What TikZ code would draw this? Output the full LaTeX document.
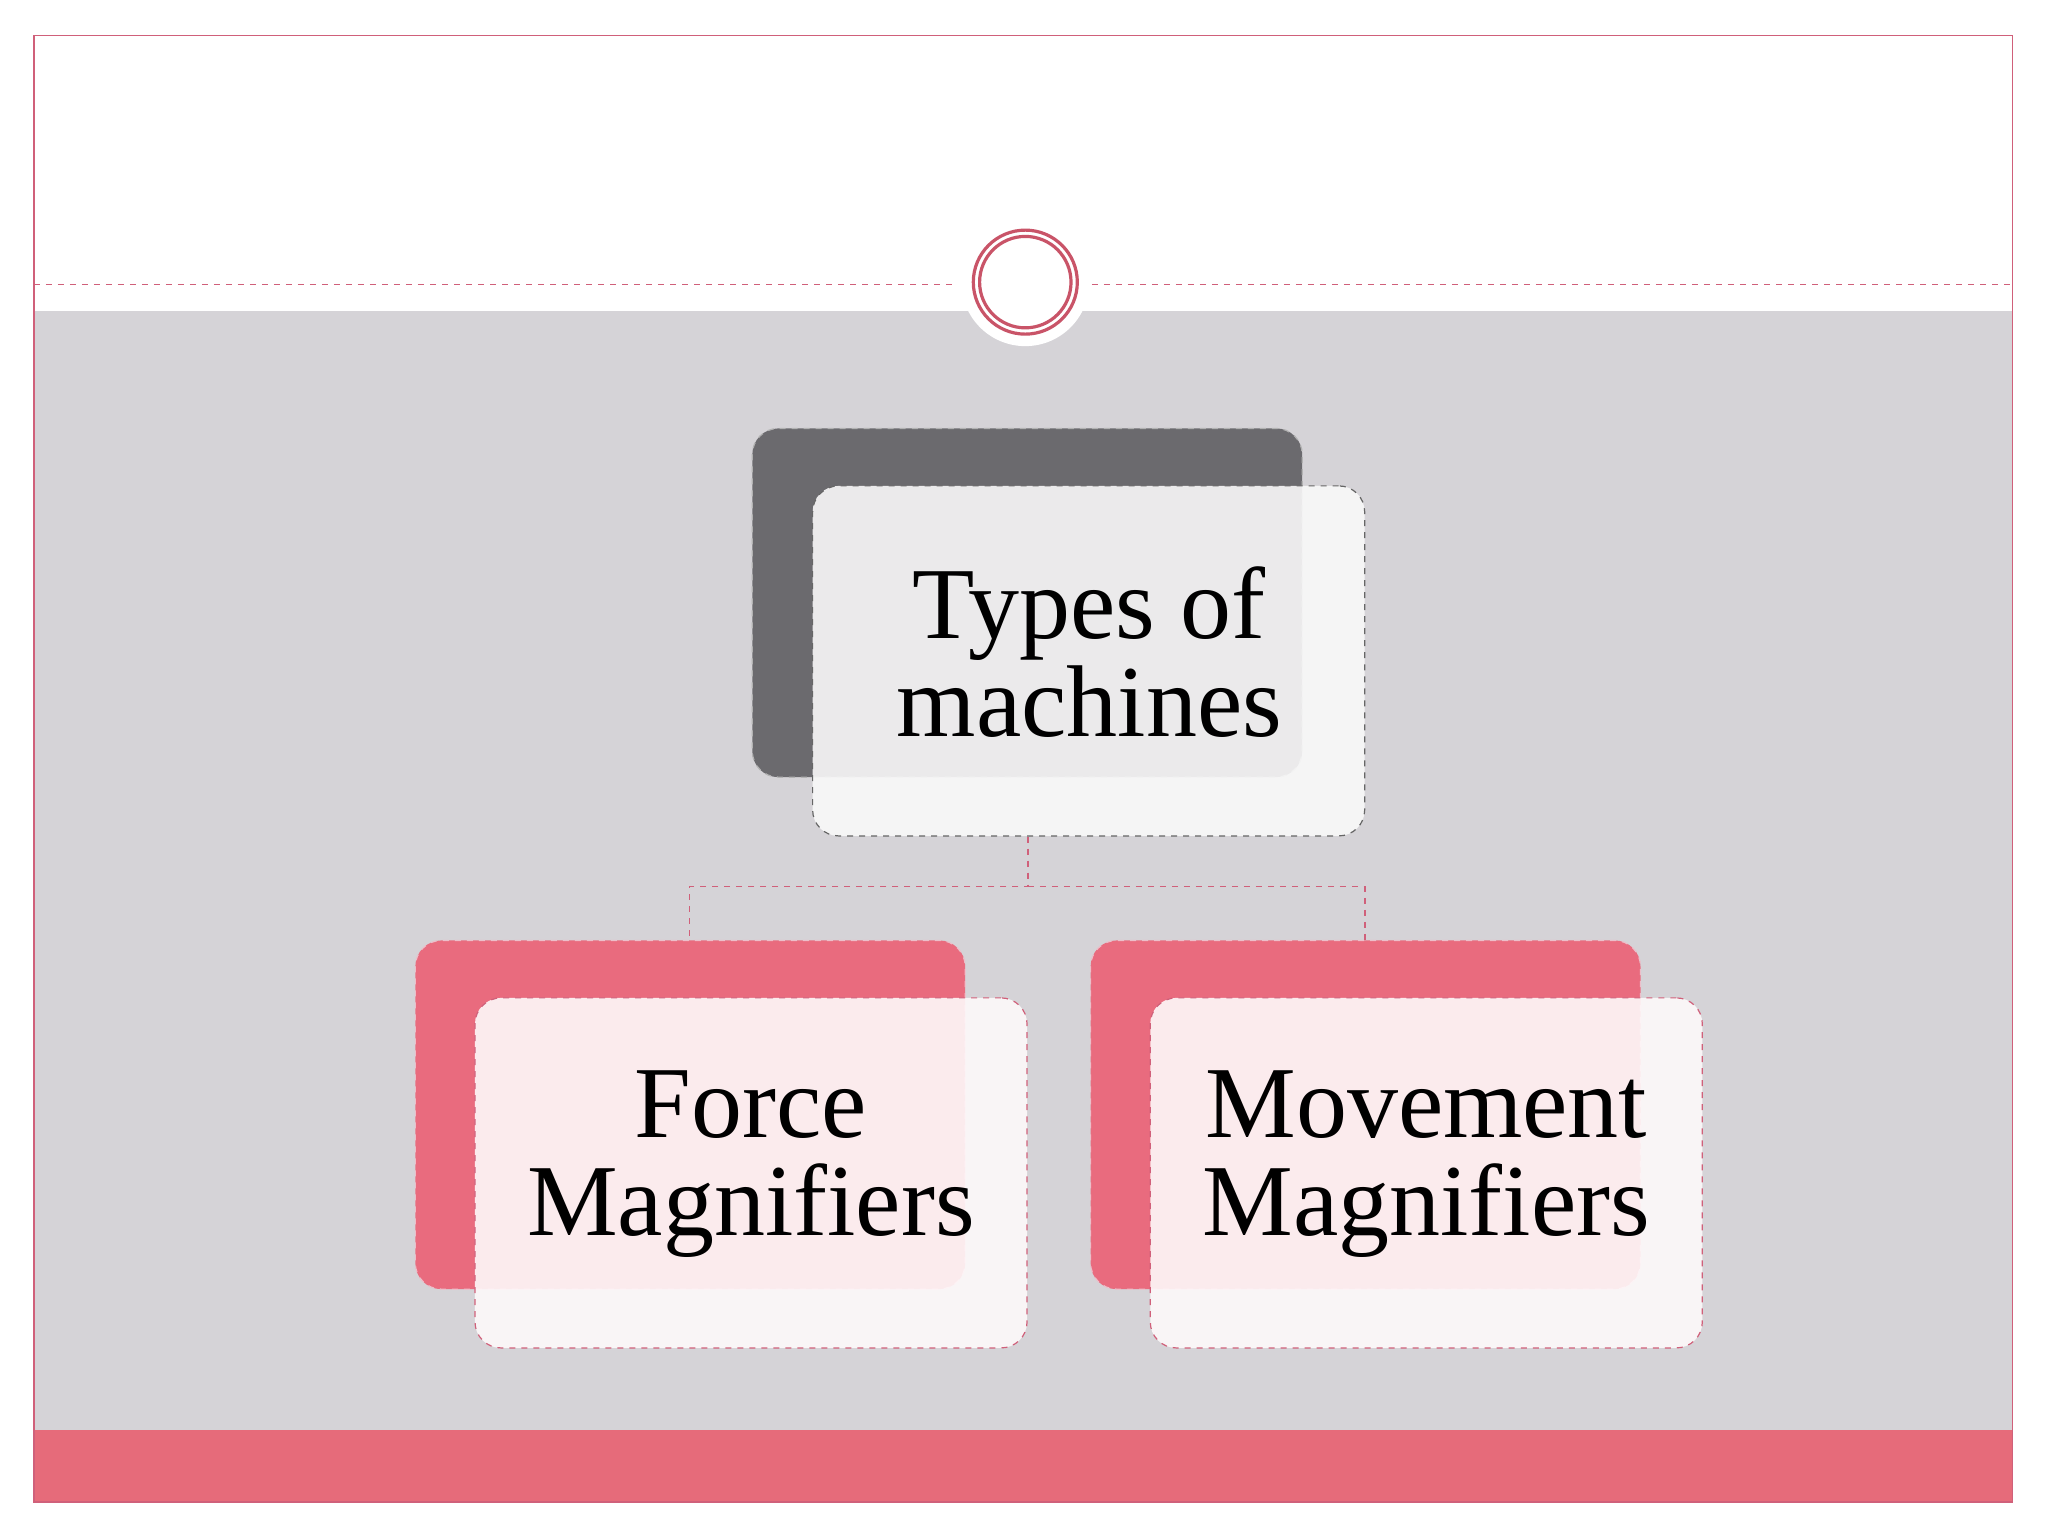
\documentclass[tikz,border=0pt]{standalone}
\usepackage{fontspec}
\setmainfont{Liberation Serif}
\definecolor{pinkline}{HTML}{D0607A}
\definecolor{graybg}{HTML}{D5D3D7}
\definecolor{pinkbar}{HTML}{E66B7A}
\definecolor{ringc}{HTML}{C95468}
\definecolor{darkbox}{HTML}{6B6A6E}
\definecolor{pinkbox}{HTML}{E96B7E}
\tikzset{
  backbox/.style={rounded corners=13pt,draw=white,dashed,line width=0.6pt},
  frontbox/.style={rounded corners=13pt,dashed,line width=0.6pt,fill opacity=0.9,text opacity=1,minimum width=276pt,minimum height=175pt,inner sep=0pt},
  lbl/.style={font=\fontsize{51}{49}\selectfont,align=center}
}
\begin{document}
\begin{tikzpicture}[x=0.653pt,y=-0.653pt]
\useasboundingbox (0,0) rectangle (1568,1176);
\fill[white] (0,0) rectangle (1568,1176);
\fill[graybg] (26,238) rectangle (1541,1095);
\fill[pinkbar] (26,1095) rectangle (1541,1150);
\draw[pinkline,line width=0.6pt] (26,27) rectangle (1541,1150);
\draw[pinkline,dashed,line width=0.6pt] (26,218) -- (733,218);
\draw[pinkline,dashed,line width=0.6pt] (836,218) -- (1541,218);
\fill[white] (785,216) circle (49);
\node[circle,draw=ringc,line width=1.6pt,minimum size=52pt,inner sep=0pt] (ring) at (785,216) {};
\draw[ringc,line width=1.6pt] (785,216) circle (35);
% top
\fill[darkbox,rounded corners=13pt] (576,328) rectangle (997,595);
\draw[backbox,draw=gray!60] (576,328) rectangle (997,595);
\node[frontbox,draw=gray!80!black,fill=white!95!gray] (top) at (833.5,506) {};
\node[lbl] (toptext) at (834,499) {Types of\\machines};
% connector
\coordinate (j) at (787,679);
\draw[pinkline,dashed,line width=0.6pt] (j |- top.south) -- (j) -- (528,679) -- (528,720);
\draw[pinkline,dashed,line width=0.6pt] (j) -- (1045,679) -- (1045,720);
% left
\fill[pinkbox,rounded corners=13pt] (318,720) rectangle (739,987);
\draw[backbox,draw=pinkline!40] (318,720) rectangle (739,987);
\node[frontbox,draw=pinkline,fill=white!96!pinkbox] (left) at (575,898) {};
\node[lbl] (lefttext) at (575,891) {Force\\Magnifiers};
% right
\fill[pinkbox,rounded corners=13pt] (835,720) rectangle (1256,987);
\draw[backbox,draw=pinkline!40] (835,720) rectangle (1256,987);
\node[frontbox,draw=pinkline,fill=white!96!pinkbox] (right) at (1092,898) {};
\node[lbl] (righttext) at (1092,891) {Movement\\Magnifiers};
\end{tikzpicture}
\end{document}
